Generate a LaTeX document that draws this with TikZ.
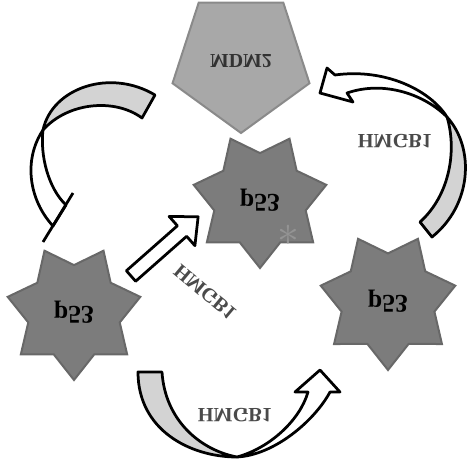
\documentclass[tikz,border=0pt]{standalone}
\usepackage{fontspec}
\setmainfont{Liberation Serif}
\usepackage{graphicx}
\usetikzlibrary{shapes.geometric}
\definecolor{stargray}{HTML}{7C7C7C}
\definecolor{starline}{HTML}{686868}
\definecolor{pentfill}{HTML}{A8A8A8}
\definecolor{pentline}{HTML}{8A8A8A}
\definecolor{bandgray}{HTML}{D3D3D3}
\definecolor{labelgray}{HTML}{4A4A4A}
\tikzset{
  cellnode/.style = {align=center, inner sep=0pt, text centered},
  star_p/.style = {cellnode, star, star points=7, star point ratio=1.45, shape border rotate=180, fill=stargray, draw=starline, line width=0.4mm, minimum size=2.72cm, font=\fontsize{14.5}{15}\selectfont\bfseries},
  pent_m/.style = {cellnode, regular polygon, regular polygon sides=5, shape border rotate=180, fill=pentfill, draw=pentline, line width=0.4mm, minimum size=2.88cm, text=black!80, font=\fontsize{11.3}{12}\selectfont\bfseries},
  band_g/.style = {draw=black, fill=bandgray, line width=0.55mm, line join=round},
  band_w/.style = {draw=black, fill=white, line width=0.55mm, line join=round},
  lbl_h/.style = {cellnode, text=labelgray, font=\fontsize{11.5}{12}\selectfont\bfseries},
}
\newcommand{\upsd}[1]{\scalebox{1}[-1]{#1}}

\begin{document}
\begin{tikzpicture}
  \useasboundingbox (0,0) rectangle (9.48,-9.24);
  % proteins
  \node [pent_m] (mdm) at (4.82,-1.22) {\upsd{MDM2}};
  \node [star_p] (pc) at (5.20,-4.00) {\upsd{p53}};
  \node [star_p] (pl) at (1.48,-6.24) {\upsd{p53}};
  \node [star_p, minimum size=2.76cm] (pr) at (7.76,-6.02) {\upsd{p53}};
  \node [cellnode, text=black!42, font=\fontsize{26}{26}\selectfont] (ast) at (5.76,-4.70) {$\ast$};
  % labels
  \node [lbl_h] (hb) at (4.70,-8.30) {\upsd{HMGB1}};
  \node [lbl_h] (ht) at (7.90,-2.82) {\upsd{HMGB1}};
  \node [lbl_h, rotate=-40] (hm) at (4.10,-5.84) {\upsd{HMGB1}};
  % straight arrow
  \begin{scope}[shift={(2.62,-5.52)}, rotate=41.4]
    \draw [band_w] (0,-0.14) -- (1.36,-0.14) -- (1.36,-0.39) -- (1.79,0)
      -- (1.36,0.39) -- (1.36,0.14) -- (0,0.14) -- cycle;
  \end{scope}
  % bottom curved arrow
  \coordinate (b1) at (4.74,-9.14);
  \draw [band_g] (2.76,-7.44) .. controls (2.76,-8.60) and (3.80,-9.14) .. (b1)
    .. controls (4.00,-9.00) and (3.30,-8.40) .. (3.24,-7.44) -- cycle;
  \draw [band_w] (b1) .. controls (5.50,-9.10) and (6.30,-8.40) .. (6.60,-7.84)
    -- (6.80,-7.84) -- (6.40,-7.40) -- (5.90,-7.84) -- (6.16,-7.84)
    .. controls (6.00,-8.40) and (5.40,-8.96) .. (b1) -- cycle;
  % top right curved arrow
  \coordinate (b2) at (8.94,-2.34);
  \draw [band_g] (b2) .. controls (9.50,-2.96) and (9.44,-4.10) .. (8.64,-4.74)
    -- (8.40,-4.44) .. controls (9.00,-3.90) and (9.14,-3.00) .. (b2) -- cycle;
  \draw [band_w] (b2) .. controls (8.60,-1.80) and (7.70,-1.36) .. (6.70,-1.50)
    -- (6.54,-1.36) -- (6.40,-1.86) -- (7.06,-2.04) -- (6.94,-1.86)
    .. controls (7.70,-1.60) and (8.50,-1.90) .. (b2) -- cycle;
  % top left curved arrow with bar
  \coordinate (b3) at (0.86,-2.60);
  \draw [band_g] (b3) .. controls (1.04,-1.76) and (2.20,-1.36) .. (3.10,-1.90)
    -- (2.84,-2.36) .. controls (2.30,-1.96) and (1.36,-2.04) .. (b3) -- cycle;
  \draw [band_w] (b3) .. controls (0.46,-3.20) and (0.58,-4.00) .. (1.06,-4.52)
    -- (1.32,-4.10) .. controls (0.96,-3.76) and (0.80,-3.10) .. (b3) -- cycle;
  \coordinate (t1) at (1.46,-3.86);
  \coordinate (t2) at (0.86,-4.84);
  \draw [line width=0.55mm] (t1) -- (t2);
\end{tikzpicture}
\end{document}
